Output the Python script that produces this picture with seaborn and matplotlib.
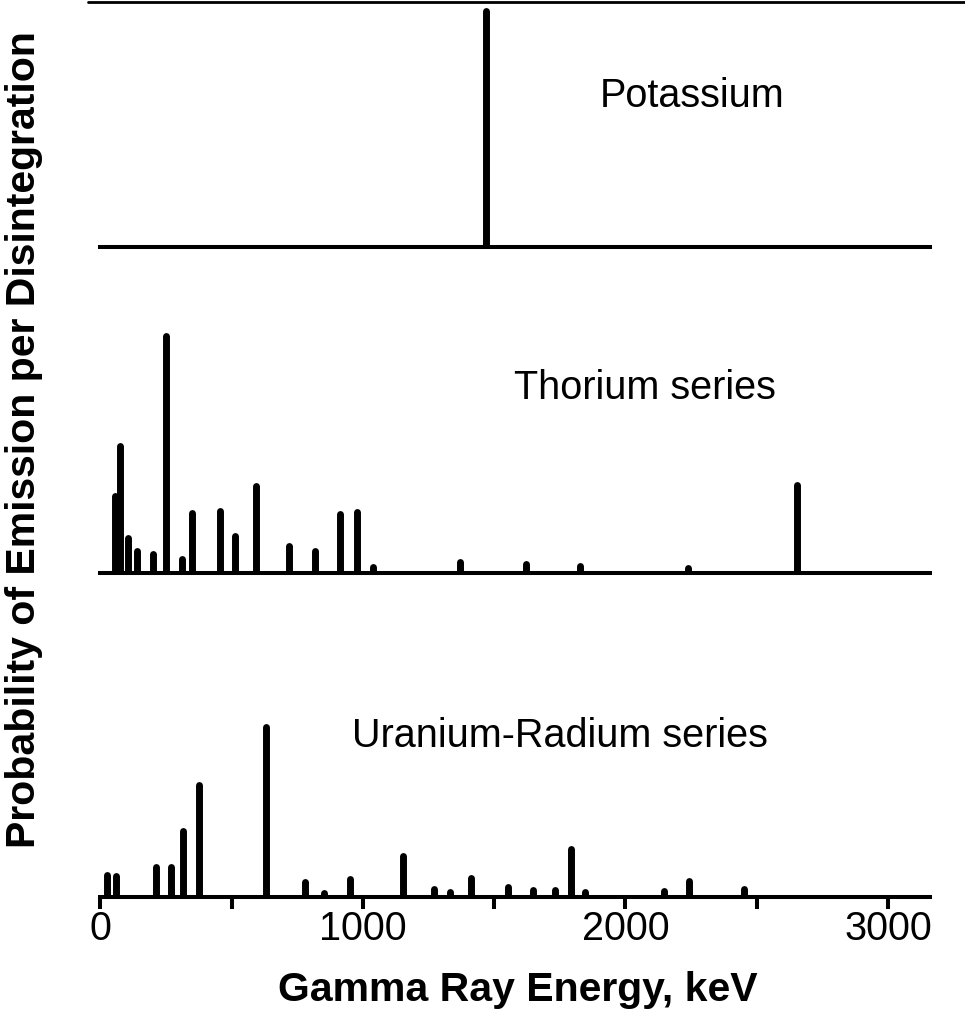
import matplotlib
matplotlib.use("Agg")
import matplotlib.pyplot as plt
from matplotlib.lines import Line2D
from matplotlib.ticker import MultipleLocator
import seaborn as sns

# gamma lines (energy in keV, relative height)
potassium_kev = [1468]
potassium_height = [236]

thorium_kev = [56, 75, 104, 139, 199, 250, 310, 350, 457, 513, 593, 718,
               818, 912, 978, 1039, 1369, 1623, 1826, 2240, 2655]
thorium_height = [77, 127, 35, 22, 19, 237, 14, 60, 62, 37, 87, 27,
                  22, 59, 61, 6, 11, 9, 7, 5, 88]

uranium_kev = [24, 59, 212, 268, 315, 376, 631, 779, 852, 950, 1151, 1271,
               1331, 1410, 1551, 1648, 1731, 1791, 1845, 2147, 2242, 2451]
uranium_height = [22, 21, 30, 30, 66, 112, 170, 15, 4, 18, 41, 8,
                  5, 19, 10, 7, 7, 48, 5, 6, 16, 8]

panel_names = ["Potassium", "Thorium series", "Uranium-Radium series"]
major_ticks = [0, 1000, 2000, 3000]

sns.set_theme(style="white")
plt.rcParams['font.family'] = ['Liberation Sans', 'DejaVu Sans']
plt.rcParams['text.color'] = 'black'
plt.rcParams['xtick.color'] = 'black'
plt.rcParams['xtick.labelcolor'] = 'black'

W, H = 965, 1015
fig = plt.figure(figsize=(W / 100, H / 100), dpi=100)


def px_box(left, bottom, right, top):
    return [left / W, 1 - bottom / H, (right - left) / W, (bottom - top) / H]


panels = [
    (potassium_kev, potassium_height, 247, (692, 107)),
    (thorium_kev, thorium_height, 573, (645, 399)),
    (uranium_kev, uranium_height, 897, (560, 747)),
]

axes = []
for (kev, height, base, (tx, ty)), name in zip(panels, panel_names):
    ax = fig.add_axes(px_box(100.3, base, 930, base - 245))
    ax.vlines(kev, 0, height, colors="black", linewidth=5.0, capstyle="round")
    ax.set_xlim(0, 3160)
    ax.set_ylim(0, 245)
    ax.set_facecolor("none")
    sns.despine(ax=ax, left=True, top=True, right=True)
    ax.spines["bottom"].set_linewidth(2.9)
    ax.spines["bottom"].set_color("black")
    ax.set_yticks([])
    ax.set_xticks([])
    fig.text(tx / W, 1 - ty / H, name, ha="center", va="baseline",
             fontsize=28.5, color="black")
    axes.append(ax)

bottom = axes[-1]
bottom.set_xticks(major_ticks)
bottom.set_xticklabels([str(t) for t in major_ticks], fontsize=28.5,
                       color="black")
bottom.xaxis.set_minor_locator(MultipleLocator(500))
bottom.tick_params(axis="x", which="both", direction="out", length=8.5,
                   width=2.9, color="black", pad=1, bottom=True)

fig.text(518 / W, 1 - 1001 / H, "Gamma Ray Energy, keV", ha="center",
         va="baseline", fontsize=29.5, fontweight="bold", color="black")
fig.text(24 / W, 1 - 440 / H, "Probability of Emission per Disintegration",
         ha="center", va="center", rotation=90, fontsize=29.5,
         fontweight="bold", color="black")

# frame line across the top of the picture
fig.add_artist(Line2D([88 / W, 1.0], [1 - 1.5 / H] * 2,
                      transform=fig.transFigure, color="black", linewidth=2))

fig.savefig("out.png", dpi=100, facecolor="white")
